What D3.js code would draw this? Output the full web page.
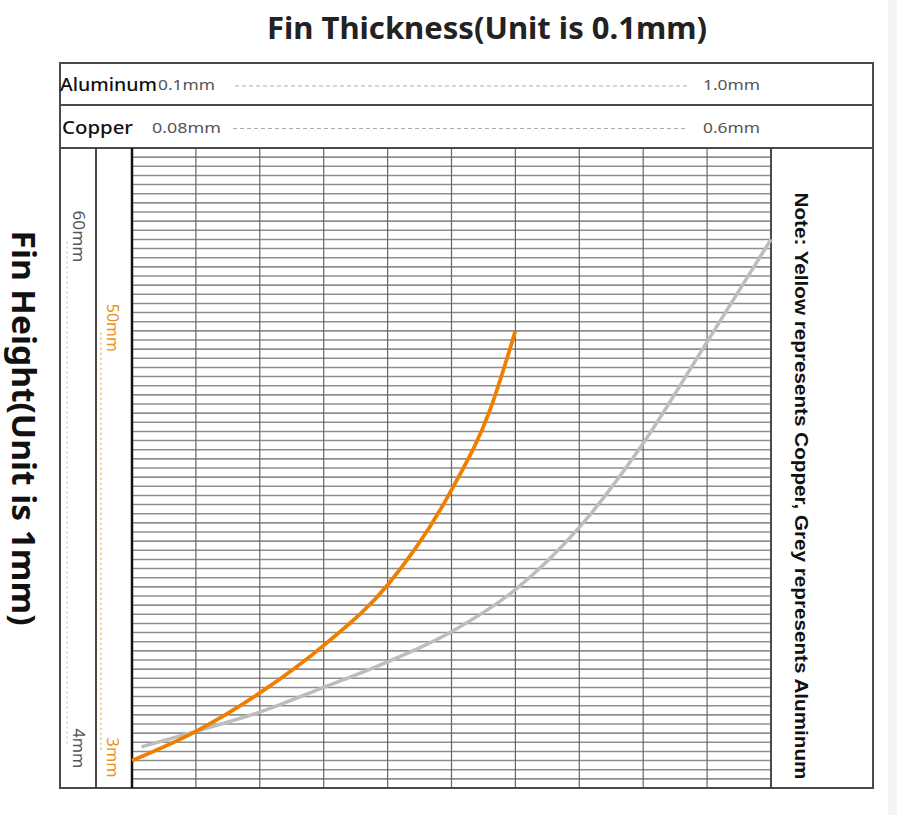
<!DOCTYPE html>
<html>
<head>
<meta charset="utf-8">
<script src="https://cdn.jsdelivr.net/npm/d3@7"></script>
<style>
  body { margin:0; background:#fff; }
  svg { display:block; }
</style>
</head>
<body>
<div id="chart"></div>
<script>
// Fin thickness vs fin height (schematic)

// Aluminum curve (grey): thickness in mm, height in mm
const alThick  = [0.015, 0.1, 0.2, 0.3, 0.4, 0.5, 0.6, 0.7, 0.8, 0.9, 1.0];
const alHeight = [4.5, 6.2, 8.3, 11.0, 13.8, 17.1, 21.7, 28.5, 37.7, 48.8, 60];

// Copper curve (orange)
const cuThick  = [0, 0.1, 0.2, 0.3, 0.4, 0.5, 0.56, 0.6];
const cuHeight = [3, 6.2, 10.4, 15.6, 22.2, 32.6, 41.3, 50];

// Header rows
const metals   = ["Aluminum", "Copper"];
const minThick = ["0.1mm", "0.08mm"];
const maxThick = ["1.0mm", "0.6mm"];

// Height labels on the left columns
const alTicks = [60, 4];
const cuTicks = [50, 3];

const W = 897, H = 815;
const box = { left: 60, right: 873, top: 63, bottom: 788 };
const plot = { left: 132, right: 771, top: 148, bottom: 788 };
const rowH = [63, 105, 148];

const svg = d3.select("#chart").append("svg")
  .attr("width", W)
  .attr("height", H);

// strip on the right edge
svg.append("rect").attr("x", 888).attr("y", 0).attr("width", 9).attr("height", H).attr("fill", "#f3f4f8");

const x = d3.scaleLinear().domain([0, 1.0]).range([plot.left, plot.right]);
const y = d3.scaleLinear().domain([0, 70]).range([plot.bottom, plot.top]);

// Grid - horizontal
svg.append("g")
  .selectAll("line")
  .data(d3.range(1, 70))
  .enter().append("line")
  .attr("x1", plot.left).attr("x2", plot.right)
  .attr("y1", d => y(d)).attr("y2", d => y(d))
  .attr("stroke", "#8e8e8e")
  .attr("stroke-width", 1.6);

// Grid - vertical
svg.append("g")
  .selectAll("line")
  .data(d3.range(1, 10).map(d => d / 10))
  .enter().append("line")
  .attr("x1", d => x(d)).attr("x2", d => x(d))
  .attr("y1", plot.top).attr("y2", plot.bottom)
  .attr("stroke", "#666")
  .attr("stroke-width", 1.2);

// Frame
const frame = svg.append("g").attr("stroke", "#4a4a4a").attr("stroke-width", 2).attr("fill", "none");
frame.append("rect")
  .attr("x", box.left).attr("y", box.top)
  .attr("width", box.right - box.left).attr("height", box.bottom - box.top);
frame.selectAll(".row")
  .data(rowH.slice(1))
  .enter().append("line")
  .attr("x1", box.left).attr("x2", box.right)
  .attr("y1", d => d).attr("y2", d => d);
frame.selectAll(".col")
  .data([96, plot.right])
  .enter().append("line")
  .attr("x1", d => d).attr("x2", d => d)
  .attr("y1", plot.top).attr("y2", plot.bottom);
frame.append("line")
  .attr("x1", plot.left).attr("x2", plot.left)
  .attr("y1", plot.top).attr("y2", plot.bottom)
  .attr("stroke", "#111").attr("stroke-width", 2.5);

// Header rows (widths)
const metalX = [60, 62], metalW = [97, 71];
const minX = [158, 152], minW = [57, 69];
const dashX = [[235, 690], [233, 685]];

const hdr = svg.append("g");
metals.forEach((m, i) => {
  const cy = (rowH[i] + rowH[i + 1]) / 2 + 1;
  hdr.append("text")
    .attr("x", metalX[i]).attr("y", cy)
    .attr("dy", "0.35em")
    .attr("textLength", metalW[i])
    .attr("lengthAdjust", "spacingAndGlyphs")
    .style("font-family", "Noto Sans")
    .style("font-size", "18px")
    .style("font-weight", "500")
    .style("fill", "#111")
    .text(m);
  hdr.append("text")
    .attr("x", minX[i]).attr("y", cy)
    .attr("dy", "0.35em")
    .attr("textLength", minW[i])
    .attr("lengthAdjust", "spacingAndGlyphs")
    .style("font-family", "Noto Sans")
    .style("font-size", "15px")
    .style("fill", "#555")
    .text(minThick[i]);
  hdr.append("line")
    .attr("x1", dashX[i][0]).attr("x2", dashX[i][1])
    .attr("y1", cy + 1).attr("y2", cy + 1)
    .attr("stroke", "#aaa")
    .attr("stroke-dasharray", "4,3");
  hdr.append("text")
    .attr("x", 703).attr("y", cy)
    .attr("dy", "0.35em")
    .attr("textLength", 57)
    .attr("lengthAdjust", "spacingAndGlyphs")
    .style("font-family", "Noto Sans")
    .style("font-size", "15px")
    .style("fill", "#555")
    .text(maxThick[i]);
});

// Left height columns
function heightColumn(ticks, lens, cx, lineX, color, lineColor){
  const g = svg.append("g");
  g.append("line")
    .attr("x1", lineX).attr("x2", lineX)
    .attr("y1", y(ticks[0]) + 2).attr("y2", y(ticks[1]) - 8)
    .attr("stroke", lineColor)
    .attr("stroke-width", 1.4)
    .attr("stroke-dasharray", "2,3");
  ticks.forEach((t, i) => {
    g.append("text")
      .attr("transform", `translate(${cx},${y(t) - 3}) rotate(90)`)
      .attr("text-anchor", "middle")
      .attr("dy", "0.35em")
      .attr("textLength", lens[i])
      .attr("lengthAdjust", "spacingAndGlyphs")
      .style("font-family", "Noto Sans")
      .style("font-size", "16px")
      .style("fill", color)
      .text(t + "mm");
  });
}
heightColumn(alTicks, [52, 40], 79, 67, "#555", "#d0d0d0");
heightColumn(cuTicks, [48, 40], 113, 101, "#f0901c", "#f5b060");

// Curves
const line = d3.line()
  .x(d => x(d[0]))
  .y(d => y(d[1]))
  .curve(d3.curveMonotoneX);

svg.append("path")
  .datum(d3.zip(alThick, alHeight))
  .attr("d", line)
  .attr("fill", "none")
  .attr("stroke", "#bdbdbd")
  .attr("stroke-width", 3.5);

svg.append("path")
  .datum(d3.zip(cuThick, cuHeight))
  .attr("d", line)
  .attr("fill", "none")
  .attr("stroke", "#f07f00")
  .attr("stroke-width", 3.8);

// Titles
svg.append("text")
  .attr("x", 487).attr("y", 28)
  .attr("text-anchor", "middle")
  .attr("dy", "0.35em")
  .attr("textLength", 440)
  .attr("lengthAdjust", "spacingAndGlyphs")
  .style("font-family", "Noto Sans")
  .style("font-size", "30px")
  .style("font-weight", "700")
  .style("fill", "#222")
  .text("Fin Thickness(Unit is 0.1mm)");

svg.append("text")
  .attr("transform", "translate(23,428) rotate(90)")
  .attr("text-anchor", "middle")
  .attr("dy", "0.35em")
  .attr("textLength", 395)
  .attr("lengthAdjust", "spacingAndGlyphs")
  .style("font-family", "Noto Sans")
  .style("font-size", "32px")
  .style("font-weight", "700")
  .style("fill", "#111")
  .text("Fin Height(Unit is 1mm)");

svg.append("text")
  .attr("transform", "translate(802,486) rotate(90)")
  .attr("text-anchor", "middle")
  .attr("dy", "0.35em")
  .attr("textLength", 587)
  .attr("lengthAdjust", "spacingAndGlyphs")
  .style("font-family", "Liberation Sans")
  .style("font-size", "19px")
  .style("font-weight", "700")
  .style("fill", "#111")
  .text("Note: Yellow represents Copper, Grey represents Aluminum");
</script>
</body>
</html>
